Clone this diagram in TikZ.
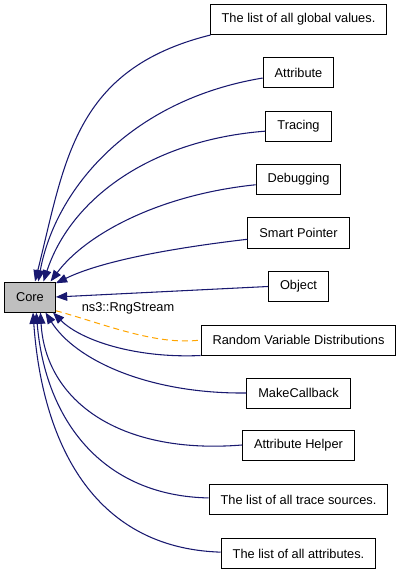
\documentclass[tikz,border=0pt]{standalone}
\usepackage{fontspec}
\setmainfont{Liberation Sans}
\usetikzlibrary{arrows.meta}

\definecolor{edgeblue}{RGB}{25,25,112}
\definecolor{tmplorange}{RGB}{255,165,0}
\definecolor{coregray}{RGB}{191,191,191}

\tikzset{
  unit/.style={draw=black, line width=0.75pt, inner xsep=8.6pt, inner ysep=0pt,
    minimum height=22.5pt, font=\fontsize{9.6}{11}\selectfont},
  corenode/.style={unit, fill=coregray},
  uselink/.style={draw=edgeblue, line width=0.8pt, -{Triangle[length=8.5pt,width=6.5pt]}},
  tmpllink/.style={draw=tmplorange, line width=0.75pt, dash pattern=on 4.5pt off 3pt},
  lbltext/.style={inner sep=0pt, font=\fontsize{9.6}{11}\selectfont},
}

\begin{document}
\begin{tikzpicture}[x=0.75pt,y=0.75pt,yscale=-1,xscale=1]
\useasboundingbox (0,0) rectangle (403,573);

% Core
\node [corenode] (core) at (30,297) {Core};

% Modules
\node [unit] (glob)  at (298.5,19.5)  {The list of all global values.};
\node [unit] (attr)  at (298.5,73)    {Attribute};
\node [unit] (trac)  at (298.5,126.5) {Tracing};
\node [unit] (debug) at (298.5,179.5) {Debugging};
\node [unit] (smart) at (298.5,233)   {Smart Pointer};
\node [unit] (obj)   at (298.5,286.5) {Object};
\node [unit] (rand)  at (298.5,340)   {Random Variable Distributions};
\node [unit] (mkcb)  at (298.5,393)   {MakeCallback};
\node [unit] (ahelp) at (298.5,445)   {Attribute Helper};
\node [unit] (trsrc) at (298.5,499.5) {The list of all trace sources.};
\node [unit] (attrs) at (298.5,553.5) {The list of all attributes.};

% Upper links
\draw [uselink] (glob.190) .. controls +(-137,34) and +(30,-120) .. (core.72);
\draw [uselink] (attr.188) .. controls +(-133,22) and +(17,-92) .. (core.62);
\draw [uselink] (trac.188) .. controls +(-116,9) and +(27,-82) .. (core.49);
\draw [uselink] (debug.187) .. controls +(-97,10) and +(35,-47) .. (core.37);
\draw [uselink] (smart.187) .. controls +(-77,9) and +(45,-22) .. (core.28);
\draw [uselink] (obj.west) -- (core.east);

% Template link
\draw [tmpllink] (core.-28) .. controls +(45,12) and +(-45,6) .. (rand.west);
\node [lbltext] (rng) at (128,308.5) {ns3::RngStream};

% Lower links
\draw [uselink] (rand.189) .. controls +(-65,3) and +(28,28) .. (core.-34);
\draw [uselink] (mkcb.west) .. controls +(-97,1) and +(30,48) .. (core.-45);
\draw [uselink] (ahelp.west) .. controls +(-123,10) and +(5,88) .. (core.-56);
\draw [uselink] (trsrc.179) .. controls +(-106,-2) and +(9,108) .. (core.-68);
\draw [uselink] (attrs.179) .. controls +(-129,-4) and +(9,128) .. (core.-79);

\end{tikzpicture}
\end{document}
